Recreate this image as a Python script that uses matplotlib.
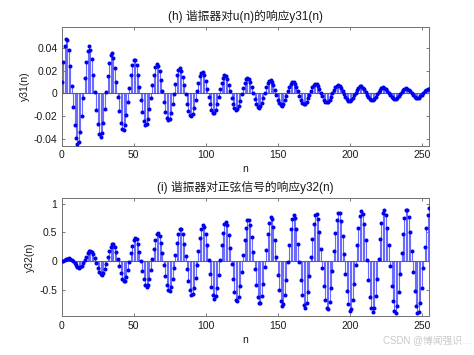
import matplotlib
matplotlib.use("Agg")
import matplotlib.pyplot as plt

plt.rcParams['font.family'] = ['Liberation Sans', 'Noto Sans CJK SC', 'DejaVu Sans']

# sample index and responses
n = list(range(256))

y31 = [
    0.0100, 0.0281, 0.0414, 0.0480, 0.0470, 0.0386, 0.0244, 0.0066, -0.0118, -0.0281,
    -0.0396, -0.0447, -0.0427, -0.0340, -0.0203, -0.0036, 0.0133, 0.0278, 0.0376, 0.0414,
    0.0386, 0.0299, 0.0166, 0.0010, -0.0145, -0.0273, -0.0357, -0.0383, -0.0348, -0.0260,
    -0.0133, 0.0012, 0.0153, 0.0267, 0.0337, 0.0352, 0.0313, 0.0225, 0.0104, -0.0031,
    -0.0159, -0.0259, -0.0316, -0.0323, -0.0280, -0.0193, -0.0078, 0.0047, 0.0162, 0.0250,
    0.0296, 0.0296, 0.0249, 0.0164, 0.0055, -0.0060, -0.0164, -0.0240, -0.0277, -0.0270,
    -0.0221, -0.0138, -0.0036, 0.0070, 0.0163, 0.0229, 0.0257, 0.0245, 0.0194, 0.0115,
    0.0018, -0.0079, -0.0162, -0.0218, -0.0238, -0.0221, -0.0170, -0.0094, -0.0004, 0.0085,
    0.0159, 0.0206, 0.0220, 0.0200, 0.0148, 0.0075, -0.0009, -0.0090, -0.0155, -0.0194,
    -0.0203, -0.0179, -0.0128, -0.0058, 0.0020, 0.0093, 0.0150, 0.0183, 0.0186, 0.0160,
    0.0110, 0.0043, -0.0029, -0.0095, -0.0144, -0.0171, -0.0170, -0.0142, -0.0093, -0.0030,
    0.0036, 0.0095, 0.0139, 0.0159, 0.0155, 0.0126, 0.0078, 0.0019, -0.0042, -0.0095,
    -0.0132, -0.0148, -0.0140, -0.0111, -0.0065, -0.0009, 0.0046, 0.0094, 0.0126, 0.0137,
    0.0127, 0.0097, 0.0053, 0.0001, -0.0050, -0.0092, -0.0119, -0.0127, -0.0114, -0.0084,
    -0.0042, 0.0006, 0.0053, 0.0090, 0.0112, 0.0117, 0.0103, 0.0073, 0.0032, -0.0012,
    -0.0054, -0.0087, -0.0105, -0.0107, -0.0092, -0.0062, -0.0024, 0.0017, 0.0055, 0.0084,
    0.0099, 0.0098, 0.0081, 0.0053, 0.0017, -0.0021, -0.0056, -0.0080, -0.0092, -0.0089,
    -0.0072, -0.0044, -0.0010, 0.0025, 0.0055, 0.0076, 0.0085, 0.0081, 0.0063, 0.0037,
    0.0005, -0.0027, -0.0055, -0.0073, -0.0079, -0.0073, -0.0055, -0.0030, 0.0000, 0.0029,
    0.0053, 0.0069, 0.0073, 0.0066, 0.0048, 0.0024, -0.0004, -0.0031, -0.0052, -0.0065,
    -0.0067, -0.0059, -0.0042, -0.0018, 0.0008, 0.0032, 0.0050, 0.0061, 0.0061, 0.0052,
    0.0035, 0.0013, -0.0010, -0.0032, -0.0048, -0.0057, -0.0056, -0.0047, -0.0030, -0.0009,
    0.0013, 0.0032, 0.0046, 0.0053, 0.0051, 0.0041, 0.0025, 0.0005, -0.0015, -0.0032,
    -0.0044, -0.0049, -0.0046, -0.0036, -0.0021, -0.0002, 0.0016, 0.0032, 0.0042, 0.0045,
    0.0042, 0.0032, 0.0017, 0.0000, -0.0017, -0.0031, -0.0040, -0.0042, -0.0038, -0.0027,
    -0.0013, 0.0003, 0.0018, 0.0030, 0.0037, 0.0039,
]

y32 = [
    0.000, 0.004, 0.014, 0.028, 0.039, 0.045, 0.040, 0.023, -0.005, -0.038,
    -0.072, -0.100, -0.113, -0.108, -0.083, -0.039, 0.017, 0.078, 0.131, 0.168,
    0.180, 0.163, 0.116, 0.046, -0.037, -0.121, -0.190, -0.233, -0.240, -0.208,
    -0.140, -0.044, 0.064, 0.167, 0.249, 0.294, 0.293, 0.245, 0.154, 0.035,
    -0.095, -0.215, -0.306, -0.350, -0.339, -0.273, -0.161, -0.019, 0.131, 0.265,
    0.361, 0.401, 0.378, 0.294, 0.160, -0.004, -0.171, -0.316, -0.413, -0.447,
    -0.410, -0.307, -0.151, 0.032, 0.214, 0.366, 0.463, 0.488, 0.435, 0.312,
    0.137, -0.064, -0.258, -0.415, -0.509, -0.523, -0.454, -0.311, -0.116, 0.100,
    0.305, 0.464, 0.552, 0.553, 0.466, 0.304, 0.091, -0.140, -0.352, -0.511,
    -0.590, -0.577, -0.472, -0.291, -0.061, 0.182, 0.399, 0.555, 0.625, 0.596,
    0.472, 0.272, 0.026, -0.227, -0.446, -0.598, -0.655, -0.610, -0.467, -0.248,
    0.012, 0.273, 0.493, 0.637, 0.681, 0.618, 0.456, 0.220, -0.053, -0.320,
    -0.538, -0.673, -0.703, -0.621, -0.440, -0.188, 0.096, 0.367, 0.582, 0.706,
    0.720, 0.619, 0.419, 0.152, -0.142, -0.415, -0.624, -0.736, -0.732, -0.612,
    -0.394, -0.112, 0.189, 0.462, 0.664, 0.762, 0.739, 0.600, 0.364, 0.070,
    -0.237, -0.509, -0.701, -0.784, -0.743, -0.584, -0.331, -0.025, 0.286, 0.554,
    0.736, 0.802, 0.741, 0.563, 0.295, -0.022, -0.336, -0.598, -0.767, -0.816,
    -0.735, -0.538, -0.255, 0.070, 0.385, 0.641, 0.796, 0.826, 0.725, 0.509,
    0.212, -0.120, -0.434, -0.681, -0.821, -0.832, -0.711, -0.477, -0.167, 0.171,
    0.482, 0.719, 0.843, 0.833, 0.693, 0.442, 0.120, -0.222, -0.529, -0.754,
    -0.861, -0.831, -0.670, -0.403, -0.071, 0.273, 0.575, 0.787, 0.875, 0.825,
    0.644, 0.361, 0.020, -0.325, -0.620, -0.817, -0.886, -0.815, -0.615, -0.317,
    0.032, 0.376, 0.662, 0.844, 0.893, 0.801, 0.582, 0.271, -0.084, -0.426,
    -0.702, -0.868, -0.896, -0.783, -0.546, -0.222, 0.137, 0.476, 0.740, 0.888,
    0.895, 0.762, 0.507, 0.172, -0.191, -0.525, -0.776, -0.905, -0.891, -0.737,
    -0.465, -0.120, 0.245, 0.571, 0.808, 0.918,
]

x_ticks = [0, 50, 100, 150, 200, 250]
y31_ticks = [-0.04, -0.02, 0, 0.02, 0.04]
y31_labels = ['-0.04', '-0.02', '0', '0.02', '0.04']
y32_ticks = [-0.5, 0, 0.5, 1]
y32_labels = ['-0.5', '0', '0.5', '1']

fig = plt.figure(figsize=(4.74, 3.55), dpi=100)
ax1 = fig.add_axes([0.130, 0.589, 0.775, 0.335])
ax2 = fig.add_axes([0.130, 0.1085, 0.775, 0.335])

panels = [
    (ax1, y31, '(h) 谐振器对u(n)的响应y31(n)', 'y31(n)', (-0.0462, 0.0585), y31_ticks, y31_labels),
    (ax2, y32, '(i) 谐振器对正弦信号的响应y32(n)', 'y32(n)', (-0.965, 1.104), y32_ticks, y32_labels),
]

for ax, y, title, ylab, ylim, yt, ytl in panels:
    ax.vlines(n, 0, y, color='#6b6bff', linewidth=0.8, zorder=2)
    ax.axhline(0, color='#606060', linewidth=0.8, zorder=3)
    ax.plot(n, y, linestyle='none', marker='o', markersize=2.9,
            color='#0000ee', markeredgewidth=0, zorder=4)
    ax.set_xlim(0, 255)
    ax.set_ylim(*ylim)
    ax.set_xticks(x_ticks)
    ax.set_yticks(yt)
    ax.set_yticklabels(ytl)
    ax.tick_params(direction='in', length=2.5, width=0.6, top=True, right=True,
                   labelsize=7.5, colors='#606060', labelcolor='#1a1a1a', pad=3)
    for s in ax.spines.values():
        s.set_color('#707070')
        s.set_linewidth(0.7)
    ax.set_title(title, fontsize=8.5, color='#1a1a1a', pad=5)
    ax.set_xlabel('n', fontsize=7.5, color='#1a1a1a', labelpad=3)
    ax.set_ylabel(ylab, fontsize=7.5, color='#1a1a1a', labelpad=3)

fig.text(0.995, 0.025, 'CSDN @博闻强识…', ha='right', va='bottom',
         fontsize=7, color='#c8c8c8', family=['Liberation Sans', 'Noto Sans CJK SC'])

fig.savefig('out.png', dpi=100, facecolor='white')
